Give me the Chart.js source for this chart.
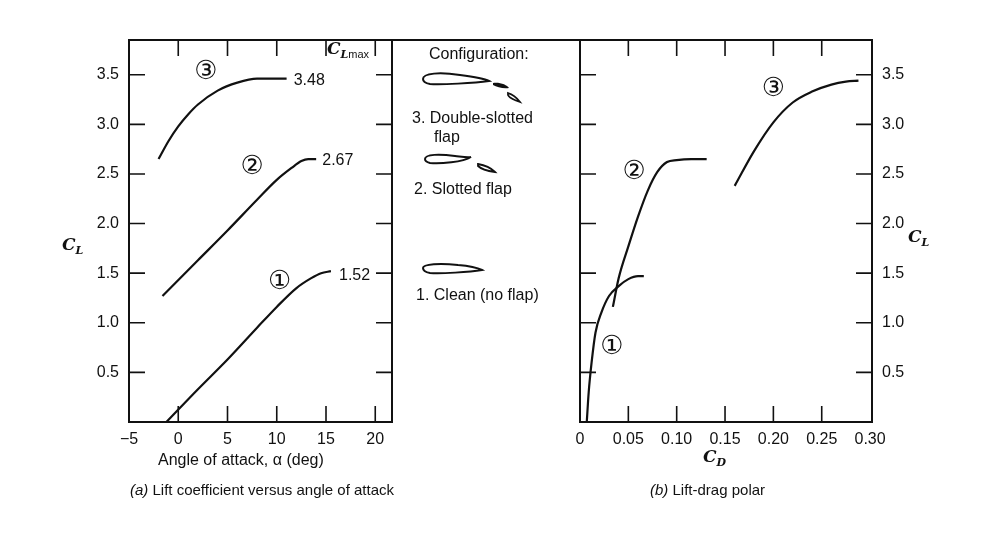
<!DOCTYPE html>
<html><head><meta charset="utf-8">
<script src="https://cdn.jsdelivr.net/npm/chart.js@4.4.1/dist/chart.umd.min.js"></script>
<style>
body{margin:0;background:#fff;width:1004px;height:557px;overflow:hidden;position:relative;font-family:'Liberation Sans Narrow','Liberation Sans',Arial,sans-serif;color:#111}
canvas{position:absolute;left:0;top:0}
.t{position:absolute;font-size:16px;white-space:nowrap;line-height:1}
.cl{font-family:'DejaVu Serif',serif;font-style:italic;font-weight:bold;font-size:17px}
.cl sub{font-size:11px}
</style></head><body>
<canvas id="left" width="1004" height="557"></canvas>
<canvas id="right" width="1004" height="557"></canvas>
<svg style="position:absolute;left:0;top:0" width="1004" height="557">
  <line x1="392" y1="40" x2="580" y2="40" stroke="#111" stroke-width="2"/>
  <path d="M423,79 C423,73 440,72 460,75 C475,77 485,79 489,81 C475,83 440,85 430,84 C424,83 423,81 423,79Z" fill="none" stroke="#111" stroke-width="2"/>
  <path d="M493,83 C500,82 507,85 509,88 C503,89 497,87 493,85Z" fill="#111"/>
  <path d="M508,93 C512,94 517,98 520,102 C514,100 509,98 508,95Z" fill="none" stroke="#111" stroke-width="1.8"/>
  <path d="M425,159 C425,154 440,154 455,156 C463,157 468,158 471,157 C463,162 440,164 430,163 C426,162 425,161 425,159Z" fill="none" stroke="#111" stroke-width="2"/>
  <path d="M478,164 C484,165 491,168 495,172 C488,171 481,169 478,166Z" fill="none" stroke="#111" stroke-width="1.8"/>
  <path d="M423,268 C423,264 440,263 458,265 C470,266 478,268 482,270 C470,272 440,274 430,273 C424,272 423,270 423,268Z" fill="none" stroke="#111" stroke-width="2"/>
</svg>
<div class="t" style="left:429px;top:46px">Configuration:</div>
<div class="t" style="left:412px;top:110px">3. Double-slotted</div>
<div class="t" style="left:434px;top:129px">flap</div>
<div class="t" style="left:414px;top:181px">2. Slotted flap</div>
<div class="t" style="left:416px;top:287px">1. Clean (no flap)</div>
<div class="t cl" style="left:62px;top:236px">C<sub>L</sub></div>
<div class="t cl" style="left:908px;top:228px">C<sub>L</sub></div>
<div class="t cl" style="left:703px;top:448px">C<sub>D</sub></div>
<div class="t cl" style="left:327px;top:40px">C<sub>L<span style="font-family:'Liberation Sans Narrow',Arial;font-style:normal;font-weight:normal;font-size:11px">max</span></sub></div>
<div class="t" style="left:158px;top:452px">Angle of attack, α (deg)</div>
<div class="t" style="left:130px;top:482px;font-size:15px"><i>(a)</i> Lift coefficient versus angle of attack</div>
<div class="t" style="left:650px;top:482px;font-size:15px"><i>(b)</i> Lift-drag polar</div>
<script>
// (a) lift curves, alpha in deg
const alpha1 = [-1.2, 2, 5, 8, 10, 12, 13.5, 14.5, 15.5];
const cl1 = [0, 0.33, 0.63, 0.95, 1.16, 1.35, 1.45, 1.5, 1.52];
const alpha2 = [-1.6, 2, 5, 8, 10, 11.5, 12.5, 13.2, 14];
const cl2 = [1.27, 1.63, 1.93, 2.24, 2.44, 2.56, 2.63, 2.65, 2.65];
const alpha3 = [-2, -1, 0, 1, 2, 4, 6, 8, 10, 11];
const cl3 = [2.65, 2.83, 2.98, 3.1, 3.2, 3.34, 3.42, 3.46, 3.46, 3.46];
const alphaTicks = [-5, 0, 5, 10, 15, 20];
const clTicks = [0.5, 1.0, 1.5, 2.0, 2.5, 3.0, 3.5];
const leftNotes = [
  {x: 2.8, y: 3.52, text: '③'}, {x: 7.5, y: 2.57, text: '②'}, {x: 10.3, y: 1.41, text: '①'},
  {x: 13.3, y: 3.44, text: '3.48'}, {x: 16.2, y: 2.63, text: '2.67'}, {x: 17.9, y: 1.48, text: '1.52'}
];
// (b) drag polars
const cd1 = [0.007, 0.009, 0.012, 0.016, 0.022, 0.03, 0.04, 0.05, 0.06, 0.066];
const pcl1 = [0, 0.3, 0.6, 0.9, 1.1, 1.27, 1.37, 1.44, 1.47, 1.47];
const cd2 = [0.034, 0.04, 0.05, 0.06, 0.07, 0.08, 0.09, 0.1, 0.115, 0.131];
const pcl2 = [1.16, 1.45, 1.77, 2.07, 2.33, 2.52, 2.62, 2.64, 2.65, 2.65];
const cd3 = [0.16, 0.18, 0.2, 0.22, 0.24, 0.26, 0.275, 0.288];
const pcl3 = [2.38, 2.73, 3.02, 3.22, 3.33, 3.4, 3.43, 3.44];
const cdTicks = [0, 0.05, 0.10, 0.15, 0.20, 0.25, 0.30];
const rightNotes = [{x: 0.2, y: 3.35, text: '③'}, {x: 0.056, y: 2.52, text: '②'}, {x: 0.033, y: 0.75, text: '①'}];

const font = "16px 'Liberation Sans Narrow', 'Liberation Sans', Arial";
const pts = (xs, ys) => xs.map((x, i) => ({x, y: ys[i]}));
const line = (xs, ys) => ({data: pts(xs, ys), borderColor: '#111', borderWidth: 2.2, pointRadius: 0, cubicInterpolationMode: 'monotone', fill: false});

const framePlugin = {
  id: 'frame',
  afterDraw(chart, args, opts) {
    const {ctx, chartArea: a, scales: {x, y}} = chart;
    ctx.save();
    ctx.strokeStyle = '#111'; ctx.lineWidth = 2;
    ctx.strokeRect(a.left, a.top, a.right - a.left, a.bottom - a.top);
    ctx.lineWidth = 1.6;
    const L = 16;
    opts.xTicks.forEach(v => {
      const px = x.getPixelForValue(v);
      if (px <= a.left + 2 || px >= a.right - 2) return;
      ctx.beginPath(); ctx.moveTo(px, a.top); ctx.lineTo(px, a.top + L);
      ctx.moveTo(px, a.bottom); ctx.lineTo(px, a.bottom - L); ctx.stroke();
    });
    opts.yTicks.forEach(v => {
      const py = y.getPixelForValue(v);
      ctx.beginPath(); ctx.moveTo(a.left, py); ctx.lineTo(a.left + L, py);
      ctx.moveTo(a.right, py); ctx.lineTo(a.right - L, py); ctx.stroke();
    });
    ctx.fillStyle = '#111'; ctx.textAlign = 'center'; ctx.textBaseline = 'middle';
    opts.notes.forEach(n => {
      ctx.font = n.text.length === 1 ? "26px 'DejaVu Sans'" : font;
      ctx.fillText(n.text, x.getPixelForValue(n.x), y.getPixelForValue(n.y));
    });
    ctx.restore();
  }
};

function makeChart(id, datasets, xr, yPos, xTicks, notes, pad, xfmt) {
  new Chart(document.getElementById(id), {
    type: 'line',
    data: {datasets},
    plugins: [framePlugin],
    options: {
      responsive: false, animation: false,
      layout: {padding: pad},
      plugins: {legend: {display: false}, tooltip: {enabled: false}, frame: {xTicks, yTicks: clTicks, notes}},
      scales: {
        x: {type: 'linear', min: xr[0], max: xr[1], grid: {display: false}, border: {display: false},
            afterBuildTicks: s => { s.ticks = xTicks.map(v => ({value: v})); },
            afterFit: s => { s.height = 30; },
            ticks: {color: '#111', font: {size: 16, family: "'Liberation Sans Narrow', 'Liberation Sans', Arial"}, padding: 0, maxRotation: 0, callback: xfmt}},
        y: {type: 'linear', position: yPos, min: 0, max: 3.85, grid: {display: false}, border: {display: false},
            afterBuildTicks: s => { s.ticks = clTicks.map(v => ({value: v})); },
            afterFit: s => { s.width = 40; },
            ticks: {color: '#111', font: {size: 16, family: "'Liberation Sans Narrow', 'Liberation Sans', Arial"}, padding: 2, callback: v => v.toFixed(1)}}
      }
    }
  });
}

makeChart('left', [line(alpha1, cl1), line(alpha2, cl2), line(alpha3, cl3)],
  [-5, 21.7], 'left', alphaTicks, leftNotes, {left: 89, top: 40, right: 612, bottom: 105},
  v => v < 0 ? '\u2212' + Math.abs(v) : String(v));
makeChart('right', [line(cd1, pcl1), line(cd2, pcl2), line(cd3, pcl3)],
  [0, 0.302], 'right', cdTicks, rightNotes, {left: 580, top: 40, right: 92, bottom: 105},
  v => v === 0 ? '0' : v.toFixed(2));
</script>
</body></html>
